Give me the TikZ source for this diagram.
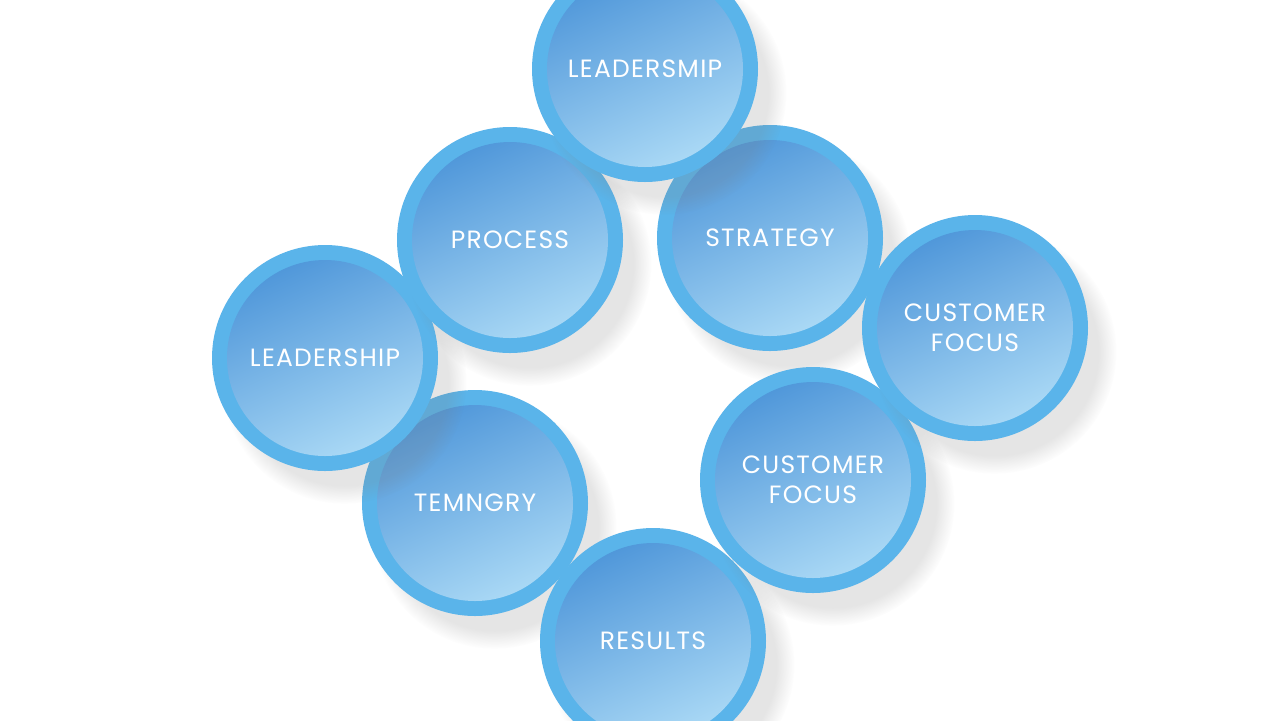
\documentclass[tikz,border=0pt]{standalone}
\usepackage{fontspec}
\setmainfont{Poppins}[LetterSpace=5]
\usetikzlibrary{shadows}
\definecolor{ringblue}{HTML}{5AB4EA}
\definecolor{indark}{HTML}{4A93D8}
\definecolor{inlight}{HTML}{B0DDF7}
\tikzset{
  disc/.style={circle, minimum size=113pt, inner sep=0pt, fill=ringblue,
    circular drop shadow={shadow xshift=9pt, shadow yshift=-11pt, shadow scale=1.08, opacity=0.2},
    path picture={\shade[top color=indark, bottom color=inlight, shading angle=25]
      (path picture bounding box.center) circle (49pt);},
    text=white, font=\fontsize{12.5}{15}\selectfont, align=center}
}
\begin{document}
\begin{tikzpicture}[x=0.5pt,y=-0.5pt]
\fill[white] (0,0) rectangle (1280,720);
\useasboundingbox (0,0) rectangle (1280,720);
\node[disc] (temn) at (475,503) {TEMNGRY};
\node[disc] (lead2) at (325,358) {LEADERSHIP};
\node[disc] (proc) at (510,240) {PROCESS};
\node[disc] (strat) at (770,238) {STRATEGY};
\node[disc] (lead1) at (645,69) {LEADERSMIP};
\node[disc] (res) at (653,641) {RESULTS};
\node[disc] (cust2) at (813,480) {CUSTOMER\\FOCUS};
\node[disc] (cust1) at (975,328) {CUSTOMER\\FOCUS};
\end{tikzpicture}
\end{document}
